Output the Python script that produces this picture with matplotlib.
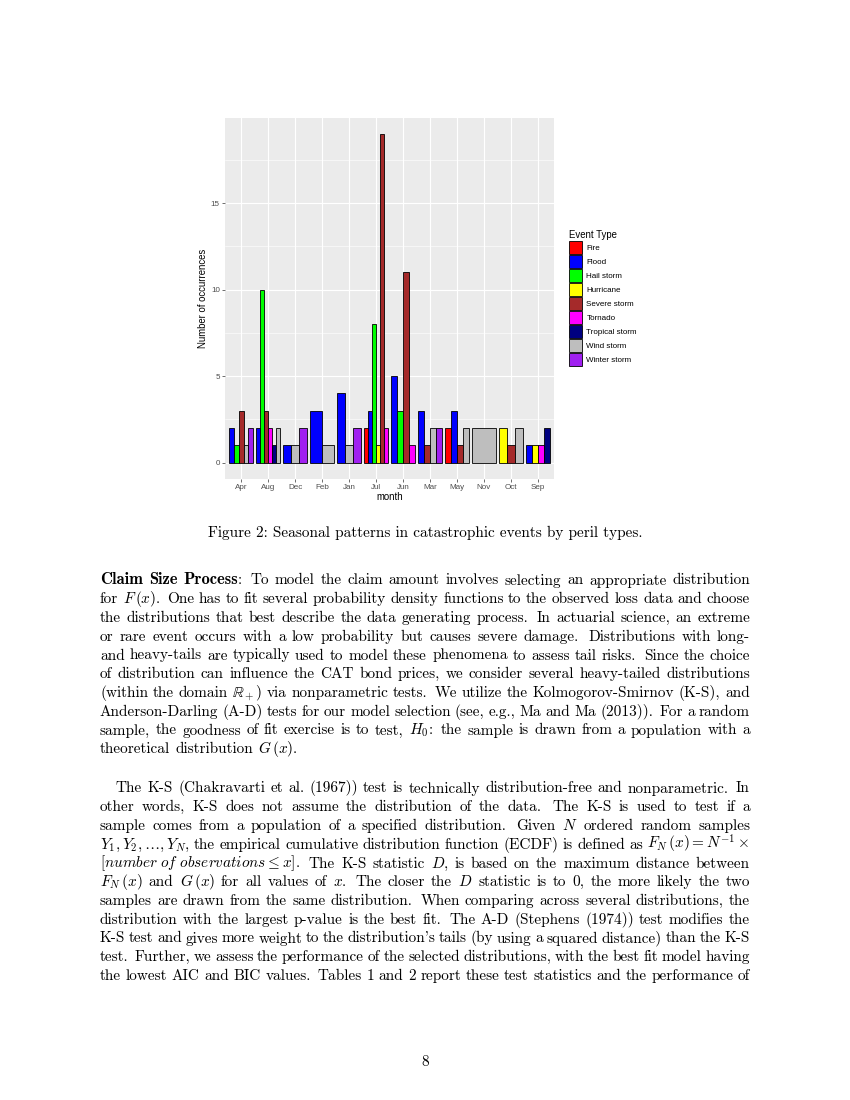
import re
import matplotlib
matplotlib.use("Agg")
import matplotlib.pyplot as plt
from matplotlib.patches import Patch
from matplotlib.ticker import MultipleLocator

plt.rcParams['mathtext.fontset'] = 'cm'
plt.rcParams['axes.unicode_minus'] = False

# counts of events per month, one list per event type
months = ["Apr", "Aug", "Dec", "Feb", "Jan", "Jul", "Jun", "Mar", "May", "Nov", "Oct", "Sep"]
event_types = ["Fire", "Flood", "Hail storm", "Hurricane", "Severe storm",
               "Tornado", "Tropical storm", "Wind storm", "Winter storm"]
event_colors = ["#FF0000", "#0000FF", "#00FF00", "#FFFF00", "#A52A2A",
                "#FF00FF", "#000080", "#BEBEBE", "#A020F0"]
fire      = [0, 0, 0, 0, 0, 2, 0, 0, 2, 0, 0, 0]
flood     = [2, 2, 1, 3, 4, 3, 5, 3, 3, 0, 0, 1]
hail      = [1, 10, 0, 0, 0, 8, 3, 0, 0, 0, 0, 0]
hurricane = [0, 0, 0, 0, 0, 1, 0, 0, 0, 0, 2, 1]
severe    = [3, 3, 0, 0, 0, 19, 11, 1, 1, 0, 1, 0]
tornado   = [0, 2, 0, 0, 0, 2, 1, 0, 0, 0, 0, 1]
tropical  = [0, 1, 0, 0, 0, 0, 0, 0, 0, 0, 0, 2]
wind      = [1, 2, 1, 1, 1, 0, 0, 2, 2, 2, 2, 0]
winter    = [2, 0, 2, 0, 2, 0, 0, 2, 0, 0, 0, 0]
counts = [fire, flood, hail, hurricane, severe, tornado, tropical, wind, winter]

caption = "Figure 2: Seasonal patterns in catastrophic events by peril types."
# "**word|rest": word is bold, rest (after |) is regular
para1 = [
    r"**Claim **Size **Process|: To model the claim amount involves selecting an appropriate distribution",
    r"for $F\,(x)$. One has to fit several probability density functions to the observed loss data and choose",
    r"the distributions that best describe the data generating process. In actuarial science, an extreme",
    r"or rare event occurs with a low probability but causes severe damage. Distributions with long-",
    r"and heavy-tails are typically used to model these phenomena to assess tail risks. Since the choice",
    r"of distribution can influence the CAT bond prices, we consider several heavy-tailed distributions",
    r"(within the domain $\mathbb{R}_+$) via nonparametric tests. We utilize the Kolmogorov-Smirnov (K-S), and",
    r"Anderson-Darling (A-D) tests for our model selection (see, e.g., Ma and Ma (2013)). For a random",
    r"sample, the goodness of fit exercise is to test, $H_0$: the sample is drawn from a population with a",
    r"theoretical distribution $G\,(x)$.",
]
para2 = [
    r"The K-S (Chakravarti et al. (1967)) test is technically distribution-free and nonparametric. In",
    r"other words, K-S does not assume the distribution of the data. The K-S is used to test if a",
    r"sample comes from a population of a specified distribution. Given $N$ ordered random samples",
    r"$Y_1,Y_2,\ldots,Y_N$, the empirical cumulative distribution function (ECDF) is defined as $F_N\,(x)=N^{-1}\times$",
    r"$[number\ of\ observations\leq x]$. The K-S statistic $D$, is based on the maximum distance between",
    r"$F_N\,(x)$ and $G\,(x)$ for all values of $x$. The closer the $D$ statistic is to 0, the more likely the two",
    r"samples are drawn from the same distribution. When comparing across several distributions, the",
    r"distribution with the largest p-value is the best fit. The A-D (Stephens (1974)) test modifies the",
    r"K-S test and gives more weight to the distribution's tails (by using a squared distance) than the K-S",
    r"test. Further, we assess the performance of the selected distributions, with the best fit model having",
    r"the lowest AIC and BIC values. Tables 1 and 2 report these test statistics and the performance of",
]

W, H = 850, 1100
fig = plt.figure(figsize=(8.5, 11), dpi=100)
renderer = fig.canvas.get_renderer()

# ---- chart ----
ax = fig.add_axes([225 / W, 1 - 479 / H, (554 - 225) / W, (479 - 117.5) / H])
ax.set_facecolor('#EBEBEB')
for i, m in enumerate(months):
    present = [k for k in range(len(event_types)) if counts[k][i] > 0]
    w = 0.9 / len(present)
    for j, k in enumerate(present):
        ax.bar(i - 0.45 + (j + 0.5) * w, counts[k][i], width=w, color=event_colors[k],
               edgecolor='black', linewidth=0.6, zorder=3)

ymax = max(max(c) for c in counts)
ax.set_xlim(-0.6, len(months) - 0.4)
ax.set_ylim(-0.05 * ymax, 1.05 * ymax)
ax.set_xticks(range(len(months)))
ax.set_xticklabels(months, fontfamily='Liberation Sans')
ax.set_yticks([0, 5, 10, 15])
ax.yaxis.set_minor_locator(MultipleLocator(2.5))
for lab in ax.get_yticklabels():
    lab.set_fontfamily('Liberation Sans')
ax.grid(which='major', color='white', linewidth=0.8, zorder=0)
ax.grid(which='minor', axis='y', color='white', linewidth=0.4, zorder=0)
ax.set_axisbelow(True)
for s in ax.spines.values():
    s.set_visible(False)
ax.tick_params(which='major', length=2.2, width=0.5, color='#333333', labelsize=5.8,
               labelcolor='#4D4D4D', pad=1.5)
ax.tick_params(which='minor', length=0)
ax.set_xlabel("month", fontsize=6.9, fontfamily='Liberation Sans', labelpad=0.5)
ax.set_ylabel("Number of occurrences", fontsize=6.9, fontfamily='Liberation Sans', labelpad=2)

handles = [Patch(facecolor=c, edgecolor='black', linewidth=0.6, label=t)
           for t, c in zip(event_types, event_colors)]
leg = ax.legend(handles=handles, title="Event Type", loc='upper left',
                bbox_to_anchor=(569 / W, 1 - 230.5 / H), bbox_transform=fig.transFigure,
                frameon=False, handlelength=1.6, handleheight=2.1, handletextpad=0.55,
                labelspacing=0.12, borderaxespad=0, borderpad=0, alignment='left',
                prop={'family': 'Liberation Sans', 'size': 5.8})
leg.get_title().set_fontfamily('Liberation Sans')
leg.get_title().set_fontsize(6.9)

# ---- page text ----
SPACE = 5.1


def make_token(tok, y):
    # returns the text pieces of one word and its total width
    parts = []
    if tok.startswith('**'):
        bold, _, rest = tok[2:].partition('|')
        parts.append(fig.text(0, 1 - y / H, bold, fontfamily='cmb10', fontsize=11.9, va='baseline'))
        if rest:
            parts.append(fig.text(0, 1 - y / H, rest, fontfamily='cmr10', fontsize=11, va='baseline'))
    else:
        parts.append(fig.text(0, 1 - y / H, tok, fontfamily='cmr10', fontsize=11, va='baseline'))
    widths = [p.get_window_extent(renderer).width for p in parts]
    return parts, widths


def text_line(line, y, x0=100, x1=750, justify=True):
    tokens = re.findall(r'(?:\$[^$]*\$|[^\s$])+', line)
    items = [make_token(tok, y) for tok in tokens]
    widths = [sum(wd) for _, wd in items]
    weights = [1.5 if tok.endswith(('.', ':')) and tok != 'al.' else 1.0 for tok in tokens[:-1]]
    unit = (x1 - x0 - sum(widths)) / sum(weights) if justify and weights else SPACE
    x = x0
    for (parts, wds), g in zip(items, weights + [0]):
        for p, wd in zip(parts, wds):
            p.set_x(x / W)
            x += wd
        x += g * unit


fig.text(425 / W, 1 - 537.5 / H, caption, fontfamily='cmr10', fontsize=11,
         ha='center', va='baseline')

step = 18.75
for k, line in enumerate(para1):
    text_line(line, 584.5 + k * step, justify=k < len(para1) - 1)
for k, line in enumerate(para2):
    text_line(line, 792.5 + k * step, x0=116 if k == 0 else 100)

fig.text(425 / W, 1 - 1066 / H, "8", fontfamily='cmr10', fontsize=11, ha='center', va='baseline')

fig.savefig("out.png", dpi=100)
